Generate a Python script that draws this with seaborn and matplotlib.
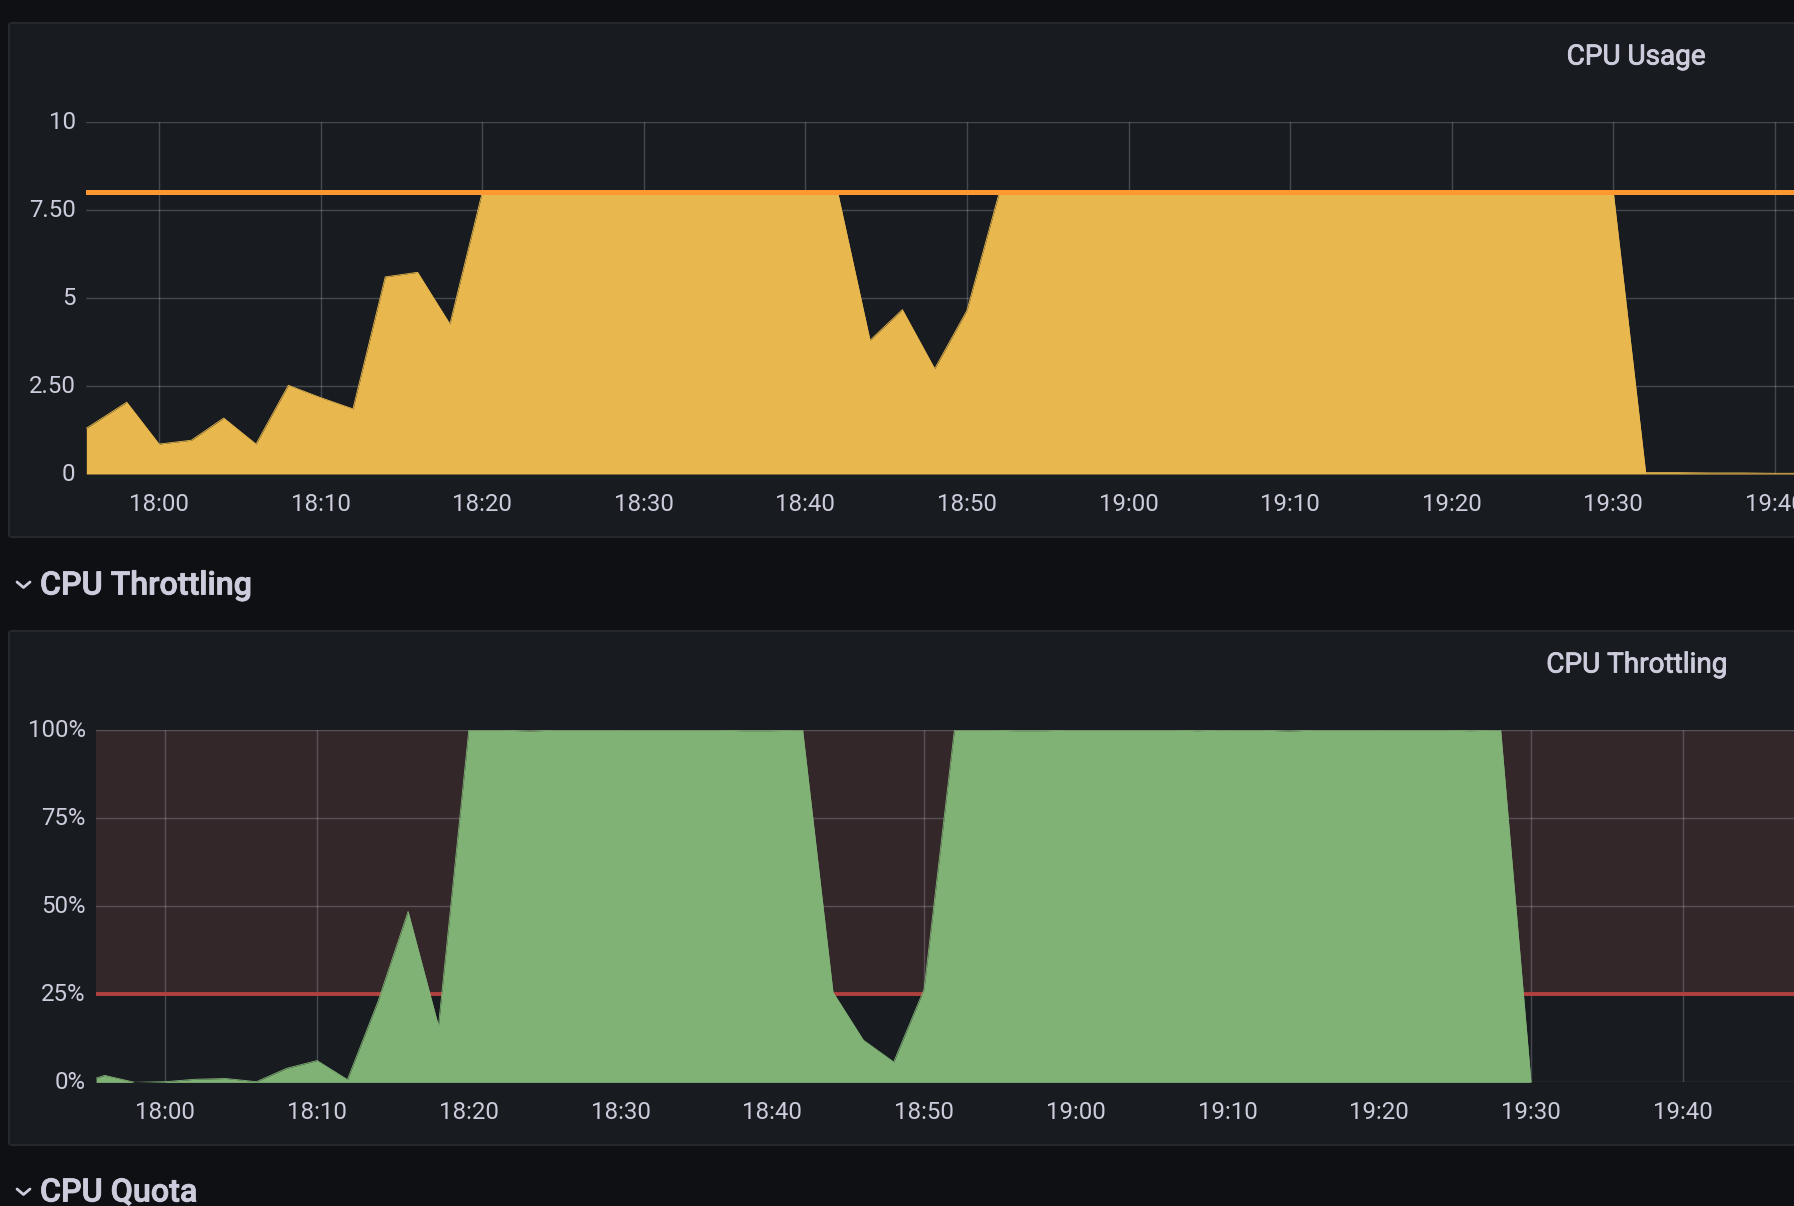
import matplotlib.pyplot as plt
import matplotlib.patheffects as pe
from matplotlib.lines import Line2D
from matplotlib.patches import FancyBboxPatch
from matplotlib.transforms import ScaledTranslation
import pandas as pd
import seaborn as sns

W, H = 1794, 1206

# minutes relative to 18:00
tick_minutes = [0, 10, 20, 30, 40, 50, 60, 70, 80, 90, 100]
tick_labels = ['18:00', '18:10', '18:20', '18:30', '18:40', '18:50',
               '19:00', '19:10', '19:20', '19:30', '19:40']

usage_minutes = [-4.5, -2, 0, 2, 4, 6, 8, 10, 12, 14, 16, 18, 20, 22, 24, 26, 28, 30, 32, 34, 36, 38, 40, 42,
                 44, 46, 48, 50, 52, 54, 56, 58, 60, 62, 64, 66, 68, 70, 72, 74, 76, 78, 80, 82, 84, 86, 88, 90,
                 92, 94, 96, 98, 100, 102]
usage_values = [1.3, 2.04, 0.85, 0.96, 1.59, 0.85, 2.52, 2.17, 1.85, 5.6, 5.73, 4.26, 8, 8, 8, 8, 8, 8, 8, 8, 8, 8, 8, 8,
                3.8, 4.67, 2.99, 4.65, 8, 8, 8, 8, 8, 8, 8, 8, 8, 8, 8, 8, 8, 8, 8, 8, 8, 8, 8, 8,
                0.04, 0.04, 0.03, 0.03, 0.02, 0.02]
usage_ticks = [0, 2.5, 5, 7.5, 10]
usage_ticklabels = ['0', '2.50', '5', '7.50', '10']
cpu_limit = 8

throttle_minutes = [-4.56, -4, -2, 0, 2, 4, 6, 8, 10, 12, 14, 16, 18, 20, 22, 24, 26, 28, 30, 32, 34, 36, 38, 40, 42,
                    44, 46, 48, 50, 52, 54, 56, 58, 60, 62, 64, 66, 68, 70, 72, 74, 76, 78, 80, 82, 84, 86, 88, 90]
throttle_values = [1.2, 2, 0, 0.2, 0.9, 1.1, 0.2, 4, 6.2, 0.8, 22.8, 48.5, 16, 100, 100, 99.7, 100, 100, 100, 100, 100, 100, 99.8, 99.8, 100,
                   25.6, 12, 5.8, 26.4, 100, 100, 99.8, 99.8, 100, 100, 100, 100, 99.8, 100, 100, 99.7, 100, 100, 100, 100, 100, 99.8, 100, 0]
throttle_ticks = [0, 25, 50, 75, 100]
throttle_ticklabels = ['0%', '25%', '50%', '75%', '100%']
throttle_threshold = 25

page_bg = '#0f1014'
panel_bg = '#181b1f'
panel_edge = '#25282c'
text_color = '#ccccdc'
grid_color = (204 / 255, 204 / 255, 220 / 255, 0.25)

sns.set_theme(style='darkgrid', rc={
    'figure.facecolor': page_bg,
    'axes.facecolor': panel_bg,
    'grid.color': grid_color,
    'grid.linewidth': 1,
    'xtick.color': text_color,
    'ytick.color': text_color,
})
plt.rcParams['font.family'] = ['Roboto', 'DejaVu Sans']

# roboto medium is not picked up by name, so thicken the headings a little
heavier = [pe.withStroke(linewidth=0.6, foreground=text_color)]


def add_panel(fig, top, bottom):
    fig.add_artist(FancyBboxPatch(
        (9 / W, 1 - bottom / H), (W + 40) / W, (bottom - top) / H,
        boxstyle='round,pad=0,rounding_size=0.002', transform=fig.transFigure,
        facecolor=panel_bg, edgecolor=panel_edge, linewidth=1.5, zorder=-1))


def add_axes(fig, left, top, bottom, xlim, ylim, yticks, yticklabels, xpad):
    ax = fig.add_axes([left / W, 1 - bottom / H, (W - left) / W, (bottom - top) / H])
    ax.patch.set_alpha(0)
    ax.set_xlim(xlim)
    ax.set_ylim(ylim)
    ax.set_xticks(tick_minutes, tick_labels)
    ax.set_yticks(yticks, yticklabels)
    ax.tick_params(axis='x', length=0, pad=xpad, labelsize=17.3)
    ax.tick_params(axis='y', length=0, pad=7.5, labelsize=17.3)
    # nudge labels to sit where the reference has them
    for label in ax.get_yticklabels():
        label.set_transform(label.get_transform() + ScaledTranslation(0, 2 / 100, fig.dpi_scale_trans))
    ax.set_axisbelow(True)
    sns.despine(ax=ax, left=True, bottom=True)
    return ax


def add_section(fig, label, y):
    fig.text(40 / W, 1 - (y + 2) / H, label, color=text_color, fontsize=23.2, fontweight='medium', va='center',
             path_effects=heavier)
    xs = [17 / W, 23.5 / W, 30 / W]
    ys = [1 - (y - 2) / H, 1 - (y + 3.5) / H, 1 - (y - 2) / H]
    fig.add_artist(Line2D(xs, ys, color=text_color, linewidth=2))


fig = plt.figure(figsize=(W / 100, H / 100), dpi=100)

add_panel(fig, 23, 537)
add_panel(fig, 631, 1145)

# CPU usage
ax1 = add_axes(fig, 86, 122, 474, (-4.52, 101.18), (0, 10), usage_ticks, usage_ticklabels, 13.7)
usage = pd.DataFrame({'minute': usage_minutes, 'value': usage_values})
ax1.fill_between(usage['minute'], usage['value'], color='#e8b84e', linewidth=0, zorder=2)
sns.lineplot(data=usage, x='minute', y='value', ax=ax1, color='#e8b84e', linewidth=0.6, zorder=2)
ax1.axhline(cpu_limit, color='#ff9830', linewidth=3.6, zorder=3)
ax1.set_xlabel('')
ax1.set_ylabel('')

# CPU throttling
ax2 = add_axes(fig, 96, 730, 1082.4, (-4.567, 107.33), (0, 100), throttle_ticks, throttle_ticklabels, 13.5)
ax2.axhspan(throttle_threshold, 100, color='#332729', linewidth=0, zorder=0.1)
ax2.axhline(throttle_threshold, color='#b0413e', linewidth=2.8, zorder=1)
throttle = pd.DataFrame({'minute': throttle_minutes, 'value': throttle_values})
ax2.fill_between(throttle['minute'], throttle['value'], color='#80b175', linewidth=0, zorder=2)
sns.lineplot(data=throttle, x='minute', y='value', ax=ax2, color='#80b175', linewidth=0.6, zorder=2)
ax2.set_xlabel('')
ax2.set_ylabel('')

fig.text(1636 / W, 1 - 57 / H, 'CPU Usage', color=text_color, fontsize=20.1, ha='center', va='center',
         path_effects=heavier)
fig.text(1636.5 / W, 1 - 665 / H, 'CPU Throttling', color=text_color, fontsize=20.1, ha='center', va='center',
         path_effects=heavier)
add_section(fig, 'CPU Throttling', 584)
add_section(fig, 'CPU Quota', 1191)

fig.savefig('out.png', dpi=100, facecolor=page_bg)
